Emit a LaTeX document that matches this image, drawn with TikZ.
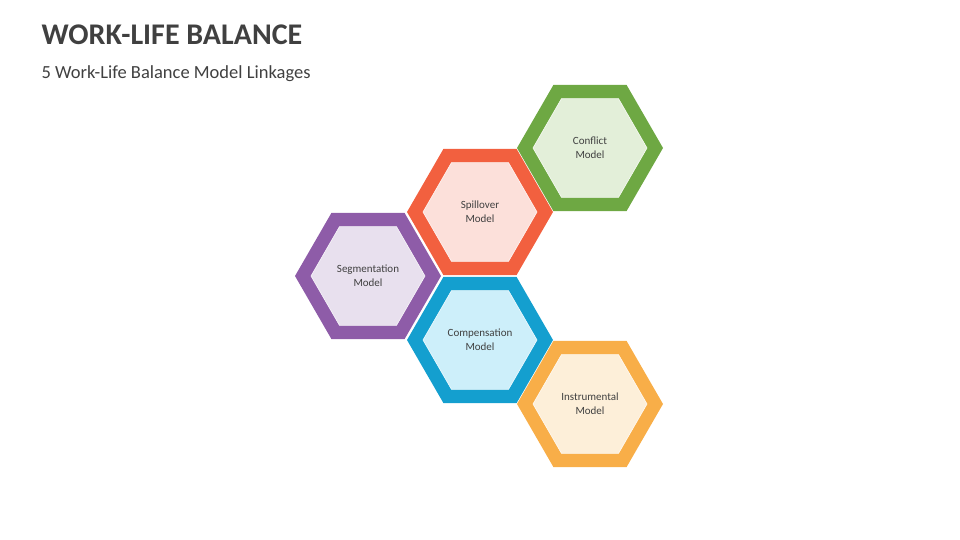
\documentclass[tikz,border=0pt]{standalone}
\usepackage{fontspec}
\setmainfont{Carlito}
\begin{document}
\begin{tikzpicture}[x=1pt,y=-1pt]
\useasboundingbox (0,0) rectangle (960,540);
\definecolor{cg}{HTML}{6EA843}\definecolor{fg}{HTML}{E3EFD9}
\definecolor{co}{HTML}{F2603F}\definecolor{fo}{HTML}{FCE0DA}
\definecolor{cp}{HTML}{8E5CA8}\definecolor{fp}{HTML}{E8E0EE}
\definecolor{cb}{HTML}{149FCF}\definecolor{fb}{HTML}{CDEFFA}
\definecolor{cy}{HTML}{F8AE48}\definecolor{fy}{HTML}{FDEFD9}
\definecolor{tx}{HTML}{404040}
\newcommand{\hexa}[6]{%
\fill[#4] (#1,#2) ++(73,0) -- ++(-36.5,63.2) -- ++(-73,0) -- ++(-36.5,-63.2) -- ++(36.5,-63.2) -- ++(73,0) -- cycle;
\fill[#5,draw=white!70!#5,line width=0.6pt] (#1,#2) ++(57,0) -- ++(-28.5,49.4) -- ++(-57,0) -- ++(-28.5,-49.4) -- ++(28.5,-49.4) -- ++(57,0) -- cycle;
\node[name=#6,align=center,text=tx,font=\fontsize{11}{14}\selectfont] at (#1,#2) {#3};}
\node[anchor=west,font=\bfseries\fontsize{30}{34}\selectfont,text=tx] (title) at (38,35) {WORK-LIFE BALANCE};
\node[anchor=west,font=\fontsize{18.5}{22}\selectfont,text=tx] (sub) at (38,74) {5 Work-Life Balance Model Linkages};
\hexa{590}{148}{Conflict\\Model}{cg}{fg}{conflict}
\hexa{368}{276}{Segmentation\\Model}{cp}{fp}{seg}
\hexa{480}{212}{Spillover\\Model}{co}{fo}{spill}
\hexa{480}{340}{Compensation\\Model}{cb}{fb}{comp}
\hexa{590}{404}{Instrumental\\Model}{cy}{fy}{instr}
\end{tikzpicture}
\end{document}
